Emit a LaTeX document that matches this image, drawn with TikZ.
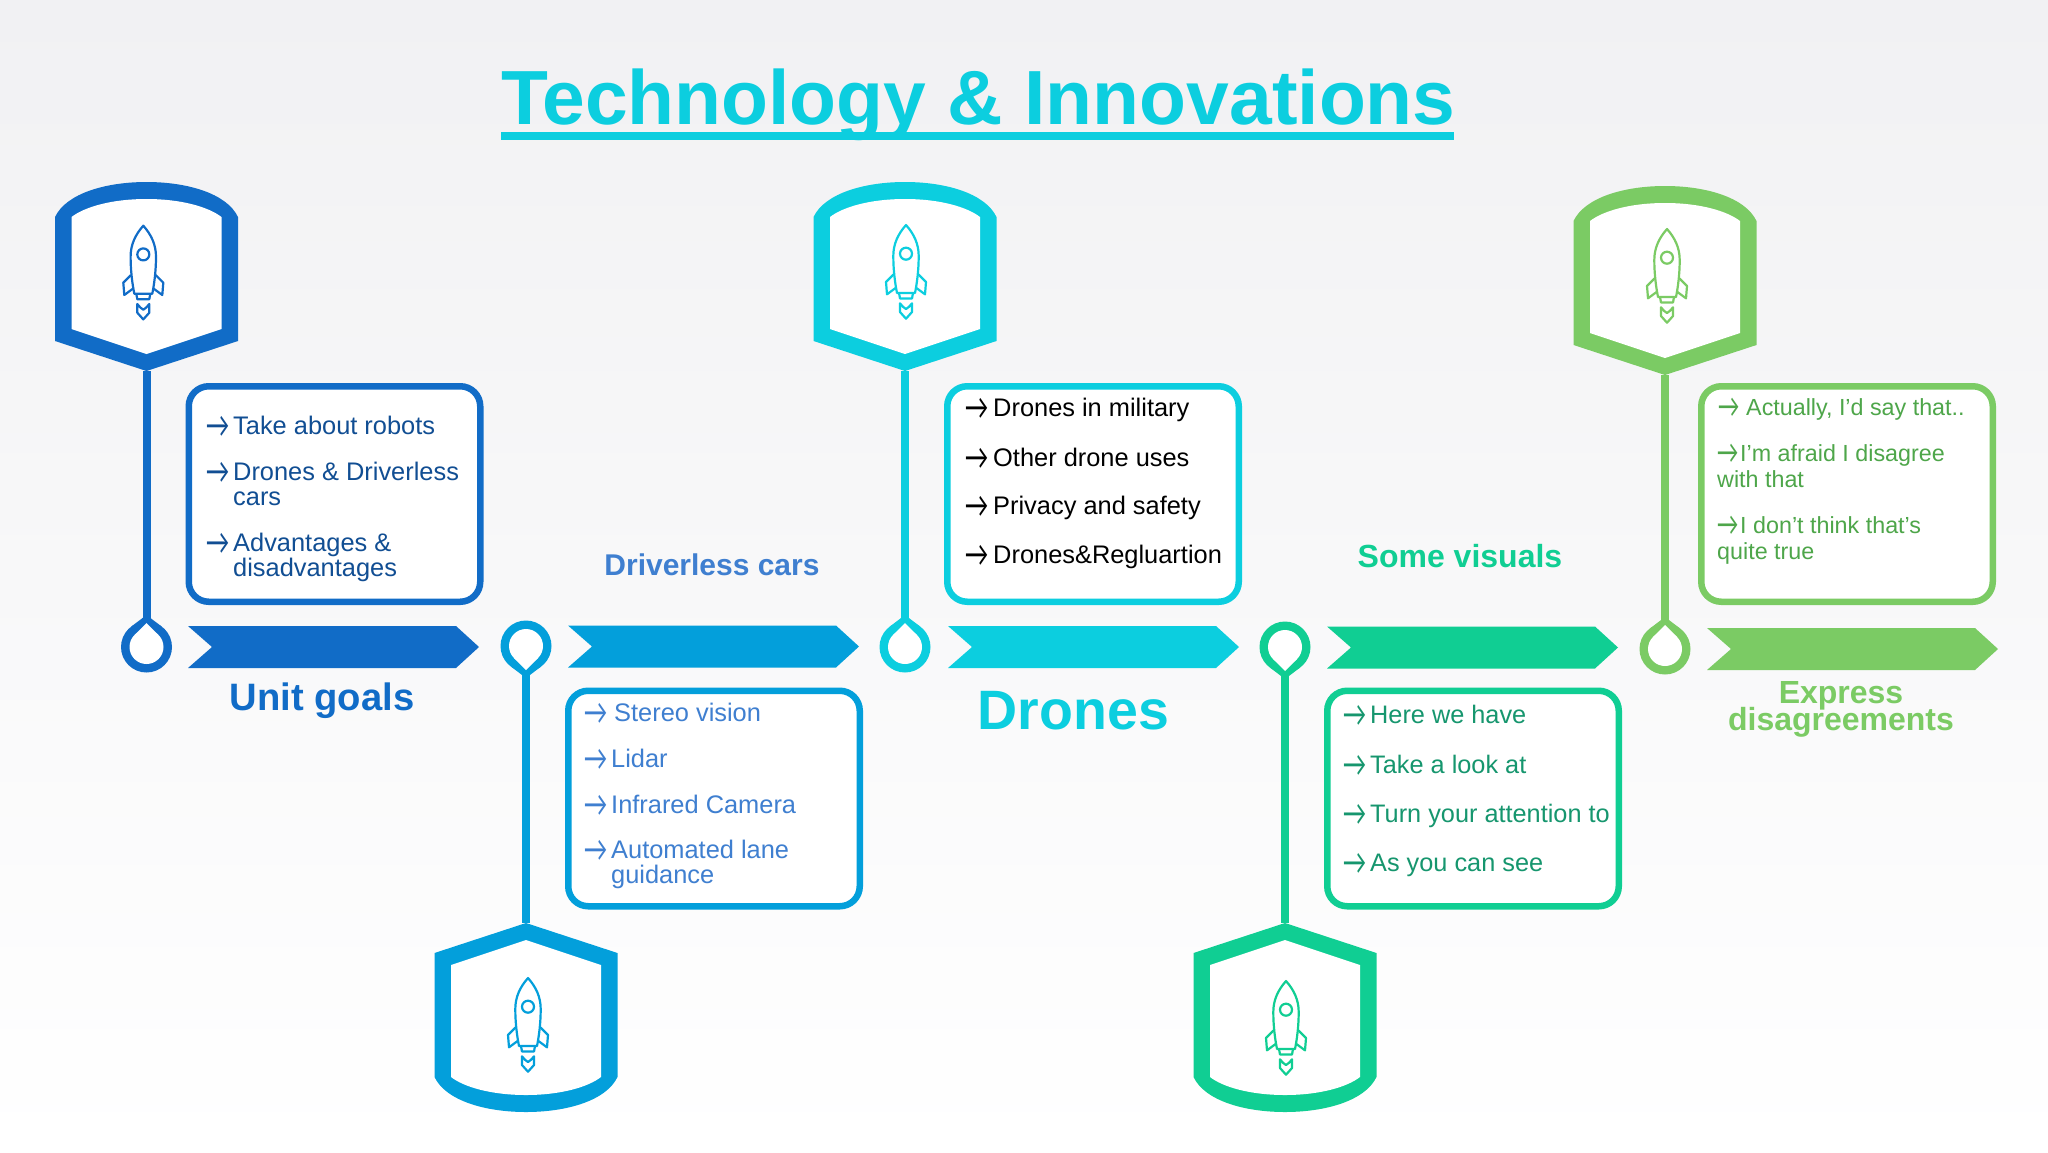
\documentclass[tikz,border=0pt]{standalone}
\usepackage{fontspec}
\usepackage{tikz}
\usetikzlibrary{arrows.meta}
\setmainfont{Liberation Sans}
\newfontfamily\arrowfont{Carlito}
\definecolor{goalsblue}{HTML}{116CC7}
\definecolor{carsblue}{HTML}{039FDB}
\definecolor{dronescyan}{HTML}{0CCEDF}
\definecolor{visualsgreen}{HTML}{10CE93}
\definecolor{opiniongreen}{HTML}{7BCB64}
\definecolor{goalstext}{HTML}{114E93}
\definecolor{carstext}{HTML}{3F7FD0}
\definecolor{visualstext}{HTML}{16966E}
\definecolor{opiniontext}{HTML}{4EA64A}
\definecolor{bgtop}{HTML}{F1F1F3}
\newcommand{\itemarrow}[1]{\makebox[#1pt][l]{\raisebox{-0.12em}{\scalebox{1}[1.45]{\arrowfont →}}}}
\newcommand{\badgeshape}[4]{
\begin{scope}[shift={(#1, #2)}, yscale=#3]
\fill[#4] (0, 0) -- (91.5, -30) -- (91.5, -154) .. controls (80, -178) and (40, -189) .. (0, -189) .. controls (-40, -189) and (-80, -178) .. (-91.5, -154) -- (-91.5, -30) -- cycle;
\fill[white] (0, -17) -- (75, -42) -- (75, -154) .. controls (62, -164) and (35, -172) .. (0, -172) .. controls (-35, -172) and (-62, -164) .. (-75, -154) -- (-75, -42) -- cycle;
\end{scope}
}
\newcommand{\rocketicon}[3]{
\begin{scope}[shift={(#1, #2)}, draw=#3, line width=2.2pt, line join=round]
\draw (0, 0) .. controls (-8, 9) and (-12.7, 19) .. (-12.7, 31) .. controls (-12.7, 45) and (-11, 58) .. (-9, 68) -- (9, 68) .. controls (11, 58) and (12.7, 45) .. (12.7, 31) .. controls (12.7, 19) and (8, 9) .. (0, 0) -- cycle;
\draw (0, 28.7) circle (6);
\draw (-7, 68) -- (-6, 73.5) -- (6, 73.5) -- (7, 68);
\draw (-12.3, 49.3) -- (-20, 57) -- (-19, 69.3) -- (-10, 62.7);
\draw (12.3, 49.3) -- (20, 57) -- (19, 69.3) -- (10, 62.7);
\draw (-6, 78.3) -- (-6, 87) -- (0, 93.7) -- (6, 87) -- (6, 78.3) .. controls (4, 81) and (2, 83) .. (0, 84) .. controls (-2, 83) and (-4, 81) .. (-6, 78.3) -- cycle;
\end{scope}
}
\newcommand{\pindrop}[4]{
\begin{scope}[shift={(#1, #2)}, yscale=#3]
\fill[#4] (0, 0) circle (25.5);
\fill[#4] (0, -32) -- (15.4, -20.3) -- (-15.4, -20.3) -- cycle;
\fill[white] (0, 0) circle (17);
\fill[white] (0, -24) -- (12, -12) -- (-12, -12) -- cycle;
\end{scope}
}
\newcommand{\chevronbar}[3]{
\fill[#3] (#1, #2-21) -- (#1+268, #2-21) -- (#1+291, #2) -- (#1+268, #2+21) -- (#1, #2+21) -- (#1+24, #2) -- cycle;
}
\tikzset{
itembox/.style={draw, fill=white, line width=6.5pt, rounded corners=20pt, inner sep=0pt, minimum width=291.5pt, minimum height=215.5pt},
stem/.style={line width=8pt},
itemtext/.style={anchor=base west, inner sep=0pt, align=left},
goalsitem/.style={itemtext, text=goalstext, font=\fontsize{25.4}{25}\selectfont},
carsitem/.style={itemtext, text=carstext, font=\fontsize{25.4}{25}\selectfont},
dronesitem/.style={itemtext, text=black, font=\fontsize{25.4}{25}\selectfont},
visualsitem/.style={itemtext, text=visualstext, font=\fontsize{25.3}{25}\selectfont},
opinionitem/.style={itemtext, text=opiniontext, font=\fontsize{23.3}{26}\selectfont},
steplabel/.style={anchor=base, inner sep=0pt, align=center}
}

\begin{document}
\begin{tikzpicture}[x=1pt, y=-1pt]
\useasboundingbox (0, 0) rectangle (2048, 1152);
\shade[top color=bgtop, bottom color=white] (0, 0) rectangle (2048, 1152);

\node[anchor=base west, inner sep=0pt, text=dronescyan, font=\fontsize{76.8}{76}\selectfont\bfseries] (title) at (501, 124) {Technology \& Innovations};
\fill[dronescyan] (501, 132) rectangle (1454, 140);

\coordinate (badgegoals) at (146.5, 371);
\coordinate (pingoals) at (146.5, 647);
\coordinate (pincars) at (526, 646);
\coordinate (badgecars) at (526, 923);
\coordinate (badgedrones) at (905, 371);
\coordinate (pindrones) at (905, 647);
\coordinate (pinvisuals) at (1285, 647);
\coordinate (badgevisuals) at (1285, 923);
\coordinate (badgeopinion) at (1665, 375);
\coordinate (pinopinion) at (1665, 649);

\draw[stem, goalsblue] (badgegoals) -- (pingoals);
\draw[stem, carsblue] (pincars) -- (badgecars);
\draw[stem, dronescyan] (badgedrones) -- (pindrones);
\draw[stem, visualsgreen] (pinvisuals) -- (badgevisuals);
\draw[stem, opiniongreen] (badgeopinion) -- (pinopinion);

\badgeshape{146.5}{371}{1}{goalsblue}
\badgeshape{526}{923}{-1}{carsblue}
\badgeshape{905}{371}{1}{dronescyan}
\badgeshape{1285}{923}{-1}{visualsgreen}
\badgeshape{1665}{375}{1}{opiniongreen}

\rocketicon{143.3}{225.7}{goalsblue}
\rocketicon{528}{978}{carsblue}
\rocketicon{906}{225}{dronescyan}
\rocketicon{1286}{981}{visualsgreen}
\rocketicon{1667}{229}{opiniongreen}

\pindrop{146.5}{647}{1}{goalsblue}
\pindrop{526}{646}{-1}{carsblue}
\pindrop{905}{647}{1}{dronescyan}
\pindrop{1285}{647}{-1}{visualsgreen}
\pindrop{1665}{649}{1}{opiniongreen}

\chevronbar{188}{647}{goalsblue}
\chevronbar{568}{646.5}{carsblue}
\chevronbar{948}{647}{dronescyan}
\chevronbar{1327}{647.5}{visualsgreen}
\chevronbar{1707}{649}{opiniongreen}

\node[itembox, draw=goalsblue] (boxgoals) at (334.5, 494) {};
\node[itembox, draw=carsblue] (boxcars) at (714, 798.5) {};
\node[itembox, draw=dronescyan] (boxdrones) at (1093, 494) {};
\node[itembox, draw=visualsgreen] (boxvisuals) at (1473, 798.5) {};
\node[itembox, draw=opiniongreen] (boxopinion) at (1847, 494) {};

\node[goalsitem] (goalsrobots) at (206, 434) {\itemarrow{27}Take about robots};
\node[goalsitem] (goalsdrones) at (206, 505) {\itemarrow{27}Drones \& Driverless\\\hspace*{27pt}cars};
\node[goalsitem] (goalsadvantages) at (206, 576) {\itemarrow{27}Advantages \&\\\hspace*{27pt}disadvantages};

\node[carsitem] (carsstereo) at (584, 721) {\itemarrow{30}Stereo vision};
\node[carsitem] (carslidar) at (584, 767) {\itemarrow{27}Lidar};
\node[carsitem] (carsinfrared) at (584, 813) {\itemarrow{27}Infrared Camera};
\node[carsitem] (carslane) at (584, 883) {\itemarrow{27}Automated lane\\\hspace*{27pt}guidance};

\node[dronesitem] (dronesmilitary) at (965, 416) {\itemarrow{28}Drones in military};
\node[dronesitem] (dronesother) at (965, 466) {\itemarrow{28}Other drone uses};
\node[dronesitem] (dronesprivacy) at (965, 514) {\itemarrow{28}Privacy and safety};
\node[dronesitem] (dronesrules) at (965, 563) {\itemarrow{28}Drones\&Regluartion};

\node[visualsitem] (visualshere) at (1343, 723) {\itemarrow{27}Here we have};
\node[visualsitem] (visualstake) at (1343, 773) {\itemarrow{27}Take a look at};
\node[visualsitem] (visualsturn) at (1343, 822) {\itemarrow{27}Turn your attention to};
\node[visualsitem] (visualssee) at (1343, 871) {\itemarrow{27}As you can see};

\node[opinionitem] (opinionactually) at (1718, 415) {\itemarrow{28}Actually, I’d say that..};
\node[opinionitem] (opinionafraid) at (1717, 487) {\itemarrow{23}I’m afraid I disagree\\with that};
\node[opinionitem] (opinionthink) at (1717, 559) {\itemarrow{23}I don’t think that’s\\quite true};

\node[steplabel, text=goalsblue, font=\fontsize{38.2}{38}\selectfont\bfseries] (labelgoals) at (322, 710) {Unit goals};
\node[steplabel, text=carstext, font=\fontsize{30}{30}\selectfont\bfseries] (labelcars) at (712, 575) {Driverless cars};
\node[steplabel, text=dronescyan, font=\fontsize{55.5}{55}\selectfont\bfseries] (labeldrones) at (1073.5, 729) {Drones};
\node[steplabel, text=visualsgreen, font=\fontsize{32}{32}\selectfont\bfseries] (labelvisuals) at (1460, 567) {Some visuals};
\node[steplabel, text=opiniongreen, font=\fontsize{32}{27}\selectfont\bfseries] (labelopinion) at (1841, 730) {Express\\[-4pt]disagreements};
\end{tikzpicture}
\end{document}
